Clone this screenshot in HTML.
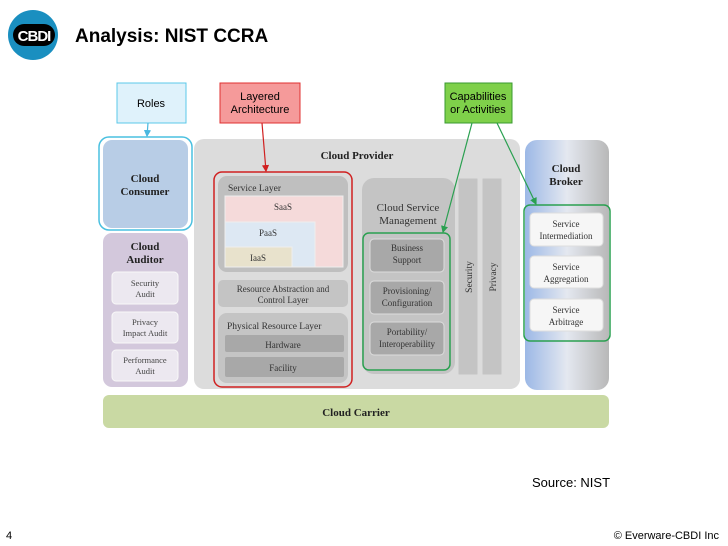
<!DOCTYPE html><html><head><style>body{margin:0;width:728px;height:546px;background:#fff;overflow:hidden}svg{display:block}</style></head><body>
<svg width="728" height="546" xmlns="http://www.w3.org/2000/svg" font-family="Liberation Serif, serif">
<defs><linearGradient id="br" x1="0" x2="1"><stop offset="0" stop-color="#9cb8e6"/><stop offset="0.5" stop-color="#e4e8f0"/><stop offset="1" stop-color="#b8b8b8"/></linearGradient>
<marker id="ab" markerWidth="6" markerHeight="6" refX="5" refY="3" orient="auto"><path d="M0,0L6,3L0,6z" fill="#4ab8e0"/></marker>
<marker id="ar" markerWidth="6" markerHeight="6" refX="5" refY="3" orient="auto"><path d="M0,0L6,3L0,6z" fill="#d02020"/></marker>
<marker id="ag" markerWidth="6" markerHeight="6" refX="5" refY="3" orient="auto"><path d="M0,0L6,3L0,6z" fill="#2aa050"/></marker></defs>
<circle cx="33" cy="35" r="25" fill="#1a8fc0"/>
<rect x="13" y="24" width="42" height="22" rx="11" fill="#000"/>
<text x="34" y="41" font-family="Liberation Sans" font-weight="bold" font-size="15" fill="#fff" text-anchor="middle" letter-spacing="-1">CBDI</text>
<text x="75" y="42" font-family="Liberation Sans" font-weight="bold" font-size="19">Analysis: NIST CCRA</text>
<g font-family="Liberation Sans" font-size="11" text-anchor="middle">
<rect x="117" y="83" width="69" height="40" fill="#dff2fb" stroke="#5bc8e8"/><text x="151" y="107">Roles</text>
<rect x="220" y="83" width="80" height="40" fill="#f59a9a" stroke="#e03030"/><text x="260" y="100">Layered</text><text x="260" y="113">Architecture</text>
<rect x="445" y="83" width="67" height="40" fill="#7fd04a" stroke="#3a9a30"/><text x="478" y="100">Capabilities</text><text x="478" y="113">or Activities</text>
</g>
<rect x="194" y="139" width="326" height="250" rx="10" fill="#dcdcdc"/>
<rect x="103" y="140" width="85" height="88" rx="9" fill="#b8cde6"/>
<rect x="99" y="137" width="93" height="93" rx="10" fill="none" stroke="#4ac0e0" stroke-width="1.5"/>
<rect x="103" y="233" width="85" height="154" rx="9" fill="#d3c8dc"/>
<rect x="525" y="140" width="84" height="250" rx="12" fill="url(#br)"/>
<rect x="103" y="395" width="506" height="33" rx="6" fill="#c9d9a3"/>
<g font-size="11" font-weight="bold" text-anchor="middle" fill="#222">
<text x="145" y="182">Cloud</text><text x="145" y="195">Consumer</text>
<text x="145" y="250">Cloud</text><text x="145" y="263">Auditor</text>
<text x="357" y="159">Cloud Provider</text>
<text x="566" y="172">Cloud</text><text x="566" y="185">Broker</text>
<text x="356" y="416">Cloud Carrier</text>
</g>
<g fill="#ece8f0" stroke="#f8f8f8"><rect x="112" y="272" width="66" height="32" rx="4"/><rect x="112" y="312" width="66" height="31" rx="4"/><rect x="112" y="350" width="66" height="31" rx="4"/></g>
<g font-size="8.5" text-anchor="middle" fill="#444">
<text x="145" y="286">Security</text><text x="145" y="297">Audit</text>
<text x="145" y="325">Privacy</text><text x="145" y="336">Impact Audit</text>
<text x="145" y="363">Performance</text><text x="145" y="374">Audit</text></g>
<rect x="218" y="176" width="130" height="96" rx="9" fill="#bfbfbf"/>
<path d="M225 196H343V267H315V222H225z" fill="#f5dada" stroke="#eee"/>
<path d="M225 222H315V267H292V247H225z" fill="#dde8f3" stroke="#eee"/>
<rect x="225" y="247" width="67" height="20" fill="#e8e2cc" stroke="#eee"/>
<rect x="218" y="280" width="130" height="27" rx="5" fill="#c4c4c4"/>
<rect x="218" y="313" width="130" height="70" rx="9" fill="#c4c4c4"/>
<rect x="225" y="335" width="119" height="17" rx="2" fill="#a8a8a8"/>
<rect x="225" y="357" width="119" height="20" rx="2" fill="#a8a8a8"/>
<rect x="214" y="172" width="138" height="215" rx="8" fill="none" stroke="#d02020" stroke-width="1.5"/>
<rect x="362" y="178" width="93" height="196" rx="12" fill="#c4c4c4"/>
<g fill="#a8a8a8" stroke="#ddd"><rect x="370" y="239" width="74" height="33" rx="4"/><rect x="370" y="281" width="74" height="33" rx="4"/><rect x="370" y="322" width="74" height="33" rx="4"/></g>
<rect x="458" y="178" width="20" height="197" fill="#c4c4c4" stroke="#ddd"/>
<rect x="482" y="178" width="20" height="197" fill="#c4c4c4" stroke="#ddd"/>
<rect x="363" y="233" width="87" height="137" rx="6" fill="none" stroke="#2aa050" stroke-width="1.5"/>
<g fill="#f6f6f6" stroke="#ddd"><rect x="530" y="213" width="73" height="33" rx="4"/><rect x="530" y="256" width="73" height="32" rx="4"/><rect x="530" y="299" width="73" height="32" rx="4"/></g>
<rect x="524" y="205" width="86" height="136" rx="6" fill="none" stroke="#2aa050" stroke-width="1.5"/>
<g font-size="9" fill="#333" text-anchor="middle">
<text x="283" y="210">SaaS</text><text x="268" y="236">PaaS</text><text x="258" y="261">IaaS</text>
<text x="283" y="292">Resource Abstraction and</text><text x="283" y="303">Control Layer</text>
<text x="283" y="348">Hardware</text><text x="283" y="371">Facility</text>
<text x="407" y="251">Business</text><text x="407" y="263">Support</text>
<text x="407" y="294">Provisioning/</text><text x="407" y="306">Configuration</text>
<text x="407" y="335">Portability/</text><text x="407" y="347">Interoperability</text>
<text x="566" y="227">Service</text><text x="566" y="239">Intermediation</text>
<text x="566" y="270">Service</text><text x="566" y="282">Aggregation</text>
<text x="566" y="313">Service</text><text x="566" y="325">Arbitrage</text>
</g>
<g font-size="9.5" fill="#333">
<text x="228" y="191">Service Layer</text><text x="227" y="329">Physical Resource Layer</text>
<text x="408" y="211" font-size="11" text-anchor="middle">Cloud Service</text><text x="408" y="224" font-size="11" text-anchor="middle">Management</text>
<text transform="translate(472,277) rotate(-90)" text-anchor="middle">Security</text>
<text transform="translate(496,277) rotate(-90)" text-anchor="middle">Privacy</text>
</g>
<line x1="148" y1="123" x2="147" y2="136" stroke="#4ab8e0" stroke-width="1.2" marker-end="url(#ab)"/>
<line x1="262" y1="123" x2="266" y2="171" stroke="#d02020" stroke-width="1.2" marker-end="url(#ar)"/>
<line x1="472" y1="123" x2="443" y2="232" stroke="#2aa050" stroke-width="1.2" marker-end="url(#ag)"/>
<line x1="497" y1="123" x2="536" y2="204" stroke="#2aa050" stroke-width="1.2" marker-end="url(#ag)"/>
<g font-family="Liberation Sans" font-size="13"><text x="532" y="487">Source: NIST</text>
<text x="6" y="539" font-size="11">4</text><text x="719" y="539" font-size="11" text-anchor="end">© Everware-CBDI Inc</text></g>
</svg></body></html>
